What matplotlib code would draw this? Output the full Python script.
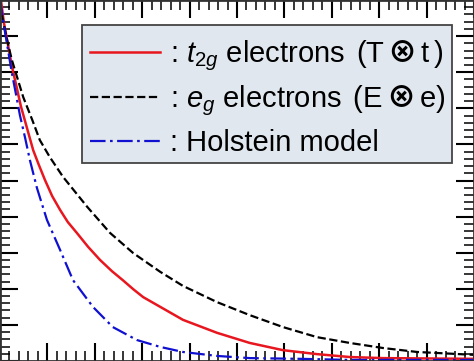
import matplotlib
matplotlib.use("Agg")
import matplotlib.pyplot as plt
from matplotlib.patches import Rectangle
from matplotlib.ticker import MultipleLocator

plt.rcParams['font.family'] = ['Liberation Sans', 'DejaVu Sans']
plt.rcParams['mathtext.fontset'] = 'custom'
plt.rcParams['mathtext.rm'] = 'Liberation Sans'
plt.rcParams['mathtext.it'] = 'Liberation Sans:italic'
plt.rcParams['mathtext.bf'] = 'Noto Sans CJK JP:bold'

# values (arbitrary units, axes span 0..10)
t2g_x = [0.02, 0.08, 0.17, 0.25, 0.34, 0.44, 0.57, 0.70, 0.82, 0.95, 1.10,
         1.27, 1.43, 1.62, 1.86, 2.11, 2.36, 2.59, 2.81, 3.02, 3.38, 3.86,
         4.58, 5.27, 5.97, 6.69, 7.38, 8.08, 10.0]
t2g_y = [10.0, 9.39, 8.75, 8.17, 7.65, 7.06, 6.45, 5.84, 5.43, 5.01, 4.57,
         4.18, 3.85, 3.55, 3.16, 2.80, 2.49, 2.24, 1.99, 1.77, 1.50, 1.14,
         0.78, 0.50, 0.30, 0.19, 0.11, 0.08, 0.06]

eg_x = [0, 0.06, 0.15, 0.25, 0.38, 0.49, 0.68, 0.84, 1.05, 1.33, 1.84,
        2.32, 2.81, 3.38, 3.86, 4.58, 5.27, 5.97, 6.69, 7.38, 8.08, 8.80, 10.0]
eg_y = [9.92, 9.45, 8.89, 8.34, 7.78, 7.31, 6.68, 6.12, 5.65, 5.10, 4.27,
        3.55, 2.99, 2.47, 2.08, 1.63, 1.27, 0.94, 0.66, 0.50, 0.36, 0.25, 0.17]

hol_x = [0, 0.08, 0.17, 0.25, 0.34, 0.42, 0.53, 0.63, 0.78, 0.99, 1.27,
         1.54, 1.96, 2.38, 2.89, 3.38, 3.86, 4.58, 5.27, 6.33, 7.38, 10.0]
hol_y = [10.0, 9.31, 8.61, 7.98, 7.37, 6.81, 6.18, 5.57, 4.79, 3.91, 3.07,
         2.24, 1.50, 0.94, 0.58, 0.39, 0.25, 0.14, 0.08, 0.06, 0.03, 0.03]

labels = [r': $t_{2g}$ electrons$\,$ (T$\,\mathbf{\otimes}\,$t$\,$)',
          r': $e_g$ electrons$\,$ (E$\,\mathbf{\otimes}\,$e)',
          ': Holstein model']

fig = plt.figure(figsize=(4.74, 3.61), dpi=100)
ax = fig.add_axes([0, 0, 1, 1])

ax.plot(t2g_x, t2g_y, color='#e8161e', lw=1.8, label=labels[0])
ax.plot(eg_x, eg_y, color='black', lw=1.6, ls='--', label=labels[1])
ax.plot(hol_x, hol_y, color='#1010d0', lw=1.6, ls=(0, (7, 2, 1.2, 2)),
        label=labels[2])

ax.set_xlim(0, 10)
ax.set_ylim(0, 10)
ax.xaxis.set_major_locator(MultipleLocator(1))
ax.xaxis.set_minor_locator(MultipleLocator(0.2))
ax.yaxis.set_major_locator(MultipleLocator(1))
ax.yaxis.set_minor_locator(MultipleLocator(0.2))
ax.tick_params(which='both', direction='in', top=True, right=True,
               labelbottom=False, labelleft=False)
ax.tick_params(which='major', length=13, width=1.5)
ax.tick_params(which='minor', length=7, width=1.1)
for s in ax.spines.values():
    s.set_linewidth(2)
    s.set_color('#333333')

# legend box drawn separately so the padding can differ per side
ax.add_patch(Rectangle((0.173, 0.5485), 0.7806, 0.3823, transform=ax.transAxes,
                       facecolor='#e1e7ee', edgecolor='#444444', lw=1.3,
                       zorder=4.5, clip_on=False))
leg = ax.legend(loc='upper left', bbox_to_anchor=(0.1899, 0.8928),
                borderaxespad=0, fontsize=21, handlelength=2.4,
                handletextpad=0.34, labelspacing=0.36, borderpad=0,
                frameon=False)

fig.savefig('out.png', dpi=100)
